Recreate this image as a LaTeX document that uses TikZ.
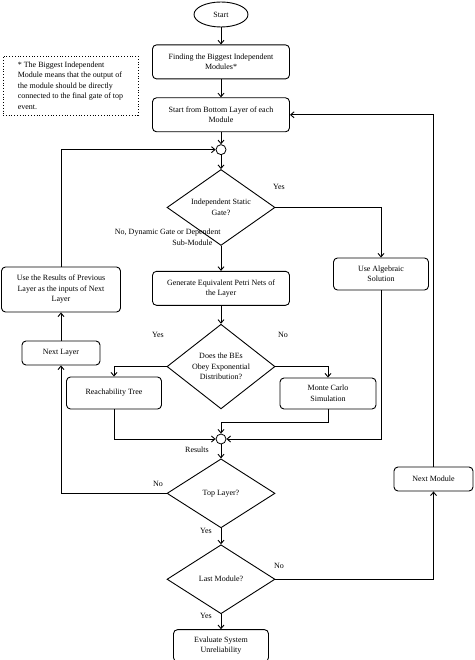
\documentclass[tikz,border=0pt]{standalone}
\usepackage{fontspec}
\setmainfont{Liberation Serif}
\usetikzlibrary{arrows.meta, shapes.geometric, positioning}

\begin{document}
\begin{tikzpicture}[
x=1pt, y=1pt,
>={Straight Barb[length=3.5pt,width=6pt]},
every node/.style={font=\fontsize{8}{10.5}\selectfont},
process/.style={rectangle, rounded corners=4pt, draw, line width=0.9pt, align=center, inner sep=1pt},
decision/.style={diamond, draw, line width=0.9pt, align=center, inner sep=0pt, minimum width=108pt, minimum height=67pt},
junction/.style={circle, draw, line width=0.8pt, minimum size=10pt, inner sep=0pt},
arrow/.style={->, line width=0.9pt}
]
\useasboundingbox (0,0) rectangle (474,-660);

% main column
\node[ellipse, draw, line width=0.9pt, minimum width=54pt, minimum height=25pt, inner sep=0pt] (start) at (221,-14.5) {Start};
\node[process, minimum width=137pt, minimum height=34pt, below=17pt of start] (biggest) {Finding the Biggest Independent\\Modules*};
\node[process, minimum width=137pt, minimum height=34pt, below=18pt of biggest] (bottom) {Start from Bottom Layer of each\\Module};
\node[junction, below=12pt of bottom] (merge1) {};
\node[decision, below=14pt of merge1] (static) {Independent Static\\Gate?};
\node[process, minimum width=137pt, minimum height=34pt, below=25pt of static] (petri) {Generate Equivalent Petri Nets of\\the Layer};
\node[decision, minimum height=68pt, below=18pt of petri] (expo) {Does the BEs\\Obey Exponential\\Distribution?};
\node[junction] (merge2) at (221,-439) {};
\node[decision, minimum height=69pt, below=14pt of merge2] (toplayer) {Top Layer?};
\node[decision, minimum height=69pt, below=16pt of toplayer] (lastmod) {Last Module?};
\node[process, minimum width=95pt, minimum height=32pt, below=15pt of lastmod] (evaluate) {Evaluate System\\Unreliability};

% side boxes
\node[process, minimum width=95pt, minimum height=32pt] (algebraic) at (381,-274) {Use Algebraic\\Solution};
\node[process, minimum width=95pt, minimum height=32pt] (reach) at (114,-393) {Reachability Tree};
\node[process, minimum width=96pt, minimum height=31pt] (monte) at (328,-393.5) {Monte Carlo\\Simulation};
\node[process, minimum width=119pt, minimum height=45pt] (useres) at (61,-289.5) {Use the Results of Previous\\Layer as the inputs of Next\\Layer};
\node[process, minimum width=78pt, minimum height=24pt] (nextlayer) at (61,-353) {Next Layer};
\node[process, minimum width=79pt, minimum height=24pt] (nextmod) at (433.5,-479) {Next Module};

% footnote box
\node[draw, dotted, line width=0.8pt, minimum width=135pt, minimum height=59pt, align=left, inner sep=2pt] (note) at (70.5,-85.5)
  {* The Biggest Independent\\Module means that the output of\\the module should be directly\\connected to the final gate of top\\event.};

% connectors
\draw[arrow] (start) -- (biggest);
\draw[arrow] (biggest) -- (bottom);
\draw[arrow] (bottom) -- (merge1);
\draw[arrow] (merge1) -- (static);
\draw[arrow] (static) -- (petri);
\draw[arrow] (petri) -- (expo);
\draw[arrow] (static.east) -| (algebraic.north);
\draw[arrow] (expo.west) -| (reach.north);
\draw[arrow] (expo.east) -| (monte.north);
\draw[arrow] (reach.south) |- (merge2.west);
\draw[arrow] (monte.south) -- ++(0,-13) -| (merge2.north);
\draw[arrow] (algebraic.south) |- (merge2.east);
\draw[arrow] (merge2) -- (toplayer);
\draw[arrow] (toplayer) -- (lastmod);
\draw[arrow] (lastmod) -- (evaluate);
\draw[arrow] (toplayer.west) -| (nextlayer.south);
\draw[arrow] (nextlayer) -- (useres);
\draw[arrow] (useres.north) |- (merge1.west);
\draw[arrow] (lastmod.east) -| (nextmod.south);
\draw[arrow] (nextmod.north) |- (bottom.east);

% branch labels
\node at (279,-187) {Yes};
\node[align=right, anchor=east] (nodyn) at (224,-237.5) {No, Dynamic Gate or Dependent\\Sub-Module\hspace*{8pt}};
\node at (158,-335) {Yes};
\node at (283,-335) {No};
\node at (197,-450) {Results};
\node at (158,-484) {No};
\node at (206,-531) {Yes};
\node at (279,-566) {No};
\node at (206,-616) {Yes};

\end{tikzpicture}
\end{document}
